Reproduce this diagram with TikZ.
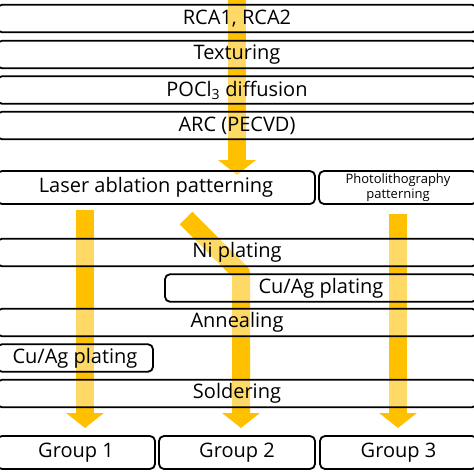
\documentclass[tikz,border=0pt]{standalone}
\usepackage{fontspec}
\setmainfont{Open Sans}
\usetikzlibrary{arrows.meta}
\definecolor{gold}{RGB}{255,192,0}

\begin{document}
\begin{tikzpicture}[x=1pt,y=-1pt,
  stepbox/.style={draw=black,line width=1.8pt,rounded corners=5pt,fill=white,fill opacity=0.4,text opacity=1,
    minimum height=27.5pt,inner sep=0pt,font=\fontsize{20}{22}\selectfont},
  tallbox/.style={stepbox,minimum height=33pt},
  flow/.style={draw=gold,line width=18pt,-{Triangle[width=37pt,length=15pt]}}]
\useasboundingbox (0,0) rectangle (474,474);

% arrows
\coordinate (top) at (237,-5);
\coordinate (slant) at (186,218);
\coordinate (bend) at (241,273);
\coordinate (tipA) at (85,428);
\coordinate (tipC) at (398,428);
\draw[flow] (top) -- (237,175);
\draw[flow] (85,210) -- (tipA);
\draw[flow,line join=round] (slant) -- (bend) -- (241,428);
\draw[flow] (398,214) -- (tipC);

% process steps
\node[stepbox,minimum width=480pt] (rca) at (237,18.5) {RCA1, RCA2};
\node[stepbox,minimum width=480pt] (tex) at (237,54.5) {Texturing};
\node[stepbox,minimum width=480pt] (pocl) at (237,90) {POCl\textsubscript{3} diffusion};
\node[stepbox,minimum width=480pt] (arc) at (237,125.5) {ARC (PECVD)};
\node[tallbox,minimum width=318pt] (laser) at (156,187.5) {Laser ablation patterning};
\node[tallbox,minimum width=158pt,align=center,font=\fontsize{13}{15.5}\selectfont] (photo) at (398,187.5) {Photolithography\\patterning};
\node[stepbox,minimum width=480pt] (ni) at (237,252.5) {Ni plating};
\node[stepbox,minimum width=312pt] (cuagR) at (321,288) {Cu/Ag plating};
\node[stepbox,minimum width=480pt] (anneal) at (237,322.5) {Annealing};
\node[stepbox,minimum width=156pt] (cuagL) at (75,358) {Cu/Ag plating};
\node[stepbox,minimum width=480pt] (solder) at (237,393.5) {Soldering};

% groups
\node[tallbox,minimum width=158pt] (grpA) at (76,452.5) {Group 1};
\node[tallbox,minimum width=156pt] (grpB) at (237,452.5) {Group 2};
\node[tallbox,minimum width=157pt] (grpC) at (398.5,452.5) {Group 3};

\end{tikzpicture}
\end{document}
